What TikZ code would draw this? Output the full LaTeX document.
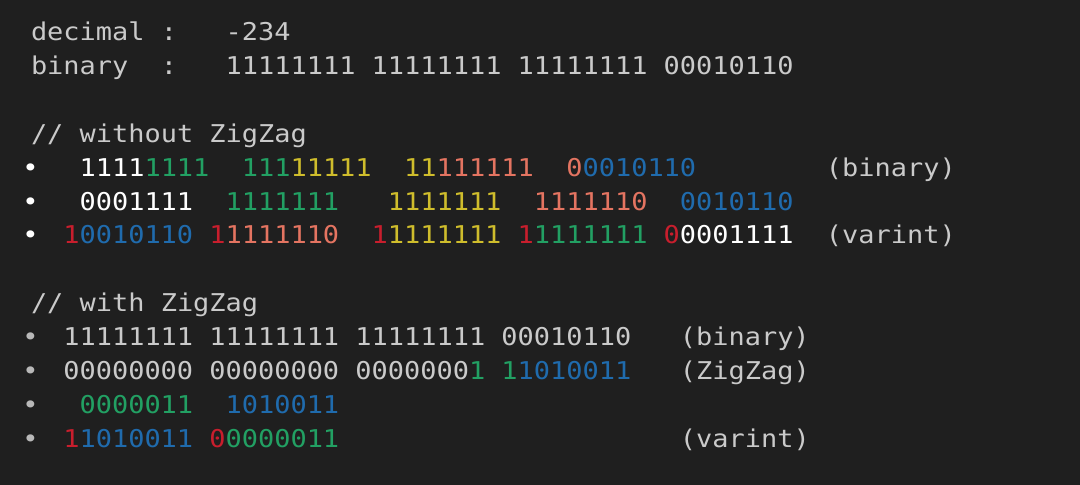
\documentclass[tikz,border=0pt]{standalone}
\usepackage{fontspec}
\newfontfamily\codefont[FakeStretch=1.10]{DejaVu Sans Mono}
\definecolor{cbg}{HTML}{1F1F1F}
\definecolor{cgry}{HTML}{CACACA}
\definecolor{cwht}{HTML}{FFFFFF}
\definecolor{cgrn}{HTML}{22A063}
\definecolor{cyel}{HTML}{CFBD2C}
\definecolor{csal}{HTML}{E47461}
\definecolor{cblu}{HTML}{1F6BAD}
\definecolor{cred}{HTML}{C81E2D}
\definecolor{cbul}{HTML}{B8B8B8}
\newcommand\cW[1]{\textcolor{cwht}{#1}}
\newcommand\cG[1]{\textcolor{cgrn}{#1}}
\newcommand\cY[1]{\textcolor{cyel}{#1}}
\newcommand\cS[1]{\textcolor{csal}{#1}}
\newcommand\cB[1]{\textcolor{cblu}{#1}}
\newcommand\cR[1]{\textcolor{cred}{#1}}
\newcommand\cK[1]{\textcolor{cgry}{#1}}
\newcommand\sk[1]{\hspace*{#1\fontcharwd\font`0}}
\begin{document}
\begin{tikzpicture}[x=1pt,y=-1pt,
  code/.style={anchor=base west,inner sep=0pt,outer sep=0pt,text=cgry,
    font=\codefont\fontsize{24.5}{24.5}\selectfont},
  bul/.style={anchor=base,inner sep=0pt,outer sep=0pt,
    font=\codefont\fontsize{24.5}{24.5}\selectfont}]
\fill[cbg] (0,0) rectangle (1080,485);
\useasboundingbox (0,0) rectangle (1080,485);
% header
\node[code] (dec) at (31,40.5) {decimal :\sk{3}-234};
\node[code] (bin) at (31,74.4) {binary\sk{2}:\sk{3}11111111 11111111 11111111 00010110};
% without ZigZag
\node[code] (c1) at (31,142.2) {// without ZigZag};
\node[bul,text=cwht] (b1) at (30.5,176.1) {•};
\node[bul,text=cwht] (b2) at (30.5,210.0) {•};
\node[bul,text=cwht] (b3) at (30.5,243.9) {•};
\node[code] (w1) at (63.4,176.1) {\sk{1}\cW{1111}\cG{1111}\sk{2}\cG{111}\cY{11111}\sk{2}\cY{11}\cS{111111}\sk{2}\cS{0}\cB{0010110}\sk{8}\cK{(binary)}};
\node[code] (w2) at (63.4,210.0) {\sk{1}\cW{0001111}\sk{2}\cG{1111111}\sk{3}\cY{1111111}\sk{2}\cS{1111110}\sk{2}\cB{0010110}};
\node[code] (w3) at (63.4,243.9) {\cR{1}\cB{0010110}\sk{1}\cR{1}\cS{1111110}\sk{2}\cR{1}\cY{1111111}\sk{1}\cR{1}\cG{1111111}\sk{1}\cR{0}\cW{0001111}\sk{2}\cK{(varint)}};
% with ZigZag
\node[code] (c2) at (31,311.7) {// with ZigZag};
\node[bul,text=cbul] (b4) at (30.5,345.6) {•};
\node[bul,text=cbul] (b5) at (30.5,379.5) {•};
\node[bul,text=cbul] (b6) at (30.5,413.4) {•};
\node[bul,text=cbul] (b7) at (30.5,447.3) {•};
\node[code] (z1) at (63.4,345.6) {11111111 11111111 11111111 00010110\sk{3}(binary)};
\node[code] (z2) at (63.4,379.5) {00000000 00000000 0000000\cG{1}\sk{1}\cG{1}\cB{1010011}\sk{3}(ZigZag)};
\node[code] (z3) at (63.4,413.4) {\sk{1}\cG{0000011}\sk{2}\cB{1010011}};
\node[code] (z4) at (63.4,447.3) {\cR{1}\cB{1010011}\sk{1}\cR{0}\cG{0000011}\sk{21}(varint)};
\end{tikzpicture}
\end{document}
